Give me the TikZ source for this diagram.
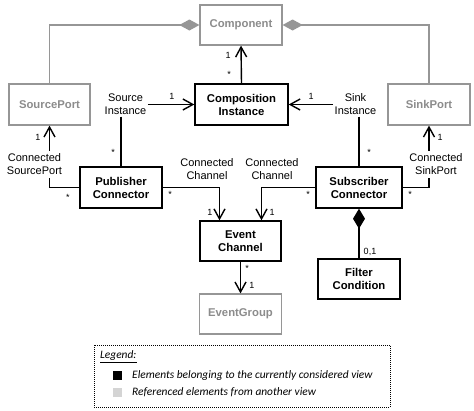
\documentclass[tikz,border=0pt]{standalone}
\usepackage{fontspec}
\setmainfont{Liberation Sans}
\newfontfamily\legendfont{Carlito}
\usetikzlibrary{arrows.meta}
\definecolor{refgray}{RGB}{140,140,140}
\definecolor{refline}{RGB}{150,150,150}
\definecolor{legendgray}{RGB}{212,212,212}
\begin{document}
\begin{tikzpicture}[x=1pt,y=-1pt,
  box/.style={draw=black, line width=1.4pt, fill=white, align=center, font=\fontsize{11.3}{13}\selectfont\bfseries, inner sep=0pt},
  refbox/.style={draw=refline, line width=1.2pt, fill=white, align=center, text=refgray, font=\fontsize{11.3}{13}\selectfont\bfseries, inner sep=0pt},
  role/.style={align=center, font=\fontsize{11}{13}\selectfont, inner sep=1.5pt},
  rolew/.style={role, fill=white, inner ysep=3pt},
  mult/.style={font=\fontsize{9}{10}\selectfont, inner sep=0pt},
  conn/.style={line width=1.4pt, draw=black},
  refconn/.style={line width=1.2pt, draw=refline},
  nav/.style={-{Straight Barb[length=10pt,width=11pt]}},
  legtext/.style={anchor=west, inner sep=0pt, font=\fontsize{11.4}{13}\selectfont\legendfont\itshape},
  ]
\useasboundingbox (0,0) rectangle (474,410);

% boxes
\node[refbox, minimum width=82pt, minimum height=40pt] (comp) at (241,25) {Component};
\node[refbox, minimum width=81pt, minimum height=41pt] (src) at (49.5,104.5) {SourcePort};
\node[refbox, minimum width=82pt, minimum height=41pt] (sink) at (429,104.5) {SinkPort};
\node[box, minimum width=93pt, minimum height=41pt] (ci) at (241.5,104.5) {Composition\\Instance};
\node[box, minimum width=82pt, minimum height=41pt] (pub) at (121,187.5) {Publisher\\Connector};
\node[box, minimum width=86pt, minimum height=41pt] (sub) at (359,187.5) {Subscriber\\Connector};
\node[box, minimum width=81pt, minimum height=40pt] (ec) at (240.5,241) {Event\\Channel};
\node[box, minimum width=82pt, minimum height=40pt] (fc) at (359,279) {Filter\\Condition};
\node[refbox, minimum width=82pt, minimum height=40pt] (eg) at (240.5,314) {EventGroup};

% role labels
\node[role] (srcinst) at (125.5,104.5) {Source\\Instance};
\node[role] (sinkinst) at (355.5,104.5) {Sink\\Instance};
\node[role] (chl) at (207,169.5) {Connected\\Channel};
\node[role] (chr) at (272,169.5) {Connected\\Channel};

% connectors
\draw[conn,nav] (ci.north) -- (comp.south);
\draw[conn,nav] (srcinst.east) -- (ci.west);
\draw[conn,nav] (sinkinst.west) -- (ci.east);
\draw[conn] (srcinst.south -| pub.north) -- (pub.north);
\draw[conn] (sinkinst.south -| sub.north) -- (sub.north);
\draw[conn,nav] (pub.west) -| (src.south);
\draw[conn,nav] (sub.east) -| (sink.south);
\draw[conn,nav] (pub.east) -| ([xshift=-21pt]ec.north);
\draw[conn,nav] (sub.west) -| ([xshift=21pt]ec.north);
\draw[conn,nav] (ec.south) -- (eg.north);
\draw[conn,{Diamond[length=20pt,width=12pt]}-] (sub.south) -- (fc.north);
\draw[refconn,{Diamond[length=20pt,width=11pt,fill=refline]}-] (comp.west) -| (src.north);
\draw[refconn,{Diamond[length=20pt,width=11pt,fill=refline]}-] (comp.east) -| (sink.north);

% role labels lying on connectors
\node[rolew] (csp) at (34.5,164.5) {Connected\\SourcePort};
\node[rolew] (csk) at (436,164.5) {Connected\\SinkPort};

% multiplicities
\node[mult] (m1) at (228,55) {1};
\node[mult] (m2) at (229,74) {*};
\node[mult] (m3) at (172,96) {1};
\node[mult] (m4) at (311,96) {1};
\node[mult] (m5) at (113,152) {*};
\node[mult] (m6) at (369,152) {*};
\node[mult] (m7) at (38,137) {1};
\node[mult] (m8) at (68,197) {*};
\node[mult] (m9) at (170,194) {*};
\node[mult] (m10) at (210,212) {1};
\node[mult] (m11) at (308,194) {*};
\node[mult] (m12) at (272,212) {1};
\node[mult] (m13) at (410,194) {*};
\node[mult] (m14) at (440,137) {1};
\node[mult] (m15) at (370,252) {0,1};
\node[mult] (m16) at (247,268) {*};
\node[mult] (m17) at (252,285) {1};

% legend
\node[draw, line width=1pt, dash pattern=on 1pt off 1pt, minimum width=296pt, minimum height=62pt, inner sep=0pt] (legend) at (242,376) {};
\node[legtext] (legtitle) at (100,357) {\underline{Legend:}};
\node[fill=black, minimum width=9pt, minimum height=8.5pt, inner sep=0pt] (sqcur) at (117.5,375.5) {};
\node[fill=legendgray, minimum width=9pt, minimum height=9pt, inner sep=0pt] (sqref) at (117.5,392) {};
\node[legtext] (txtcur) at (132,376) {Elements belonging to the currently considered view};
\node[legtext] (txtref) at (132,392) {Referenced elements from another view};
\end{tikzpicture}
\end{document}
